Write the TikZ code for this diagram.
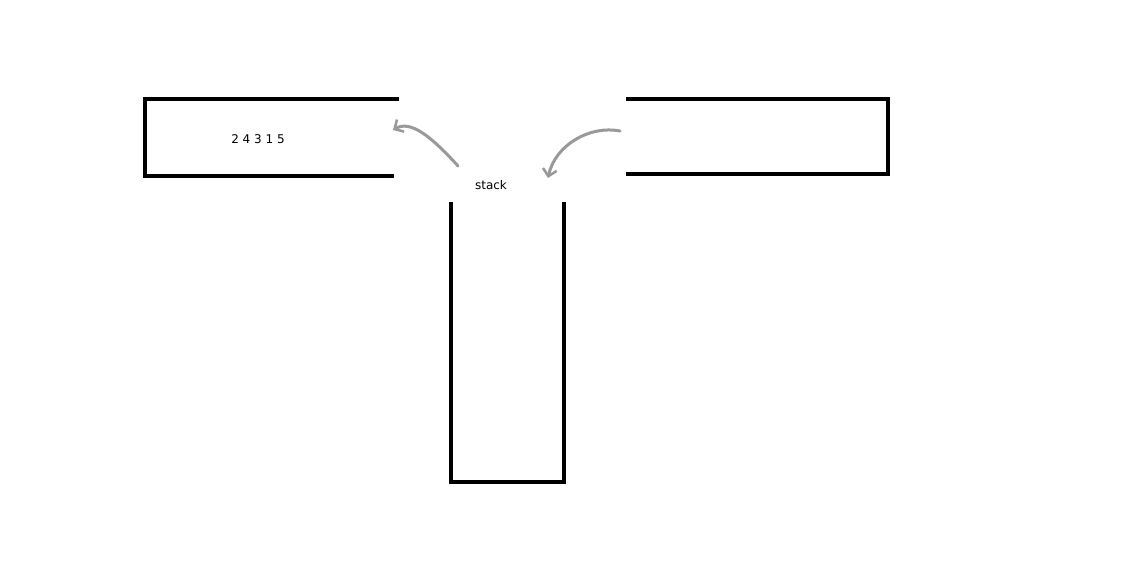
\documentclass[tikz,border=0pt]{standalone}
\usepackage{fontspec}
\setmainfont{DejaVu Sans}
\usetikzlibrary{arrows.meta}
\begin{document}
\begin{tikzpicture}[x=1pt,y=-1pt,
  wall/.style={line width=3.5pt,line cap=rect},
  sketch/.style={draw=gray!80,line width=3pt,line cap=round,-{Straight Barb[length=7pt,width=14pt,line width=2.5pt]}},
  lbl/.style={font=\fontsize{12}{14}\selectfont}]
\useasboundingbox[fill=white] (0,0) rectangle (1132,572);
\draw[wall] (397,99) -- (145,99) -- (145,176) -- (392,176);
\draw[wall] (628,99) -- (888,99) -- (888,174) -- (628,174);
\draw[wall] (451,204) -- (451,482) -- (564,482) -- (564,204);
\node[lbl] (seq) at (258,139) {2 4 3 1 5};
\node[lbl] (stk) at (491,185) {stack};
\coordinate (a1) at (458,166);
\coordinate (a2) at (393,130);
\coordinate (b1) at (620,131);
\coordinate (b2) at (548,178);
\draw[sketch] (a1) .. controls (430,135) and (410,120) .. (a2);
\draw[sketch] (b1) .. controls (590,125) and (555,145) .. (b2);
\end{tikzpicture}
\end{document}
